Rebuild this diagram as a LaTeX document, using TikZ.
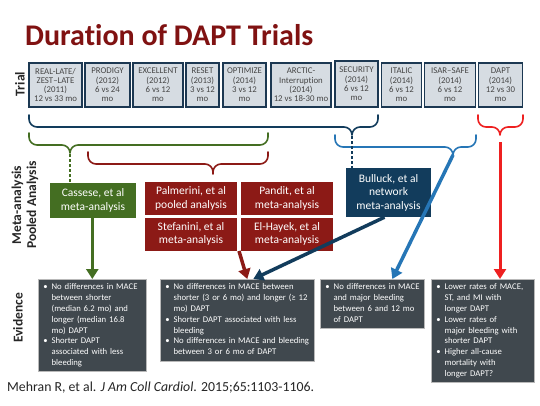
\documentclass[tikz,border=0pt]{standalone}
\usepackage{fontspec}
\setmainfont{Carlito}[Ligatures=NoCommon]
\usetikzlibrary{arrows.meta, positioning}

\definecolor{titlered}{RGB}{128,18,18}
\definecolor{trialfill}{RGB}{214,220,226}
\definecolor{trialline}{RGB}{28,56,82}
\definecolor{textgrey}{RGB}{70,70,70}
\definecolor{labelgrey}{RGB}{38,38,38}
\definecolor{navy}{RGB}{18,60,92}
\definecolor{leafgreen}{RGB}{68,110,34}
\definecolor{brick}{RGB}{140,26,22}
\definecolor{skyblue}{RGB}{38,118,182}
\definecolor{alertred}{RGB}{238,32,32}
\definecolor{slate}{RGB}{64,72,78}

\begin{document}
\begin{tikzpicture}[x=1pt, y=-1pt, >=Stealth,
    trialbox/.style={draw=trialline, line width=1.4pt, fill=trialfill, inner sep=0pt,
      minimum height=44pt, align=center, text=textgrey, font=\fontsize{8.8}{9.3}\selectfont},
    metabox/.style={inner sep=0pt, align=center, text=white, font=\fontsize{11.5}{13.5}\selectfont},
    evidbox/.style={anchor=north west, fill=slate, draw=gray!55, line width=0.6pt,
      inner xsep=5pt, inner ysep=3pt, align=left, text=white, font=\fontsize{8.7}{10.8}\selectfont},
    rowlabel/.style={rotate=90, align=center, text=labelgrey, font=\bfseries\fontsize{13.5}{15}\selectfont},
    bracepath/.style={line width=1.6pt, rounded corners=8pt, line cap=round},
    stub/.style={line width=1.6pt, dash pattern=on 3pt off 2pt},
    bigarrow/.style={line width=3.5pt, -{Triangle[width=12pt,length=10pt]}}]

  % Page
  \fill[white] (0,0) rectangle (540,405);
  \useasboundingbox (0,0) rectangle (540,405);

  % Title and row labels
  \node[anchor=base west, inner sep=0pt, text=titlered, font=\bfseries\fontsize{30}{34}\selectfont]
    (title) at (25,45) {Duration of DAPT Trials};
  \node[rowlabel] (lbltrial) at (20,84) {Trial};
  \node[rowlabel] (lblmeta) at (25,205) {Meta-analysis\\Pooled Analysis};
  \node[rowlabel] (lblevid) at (18,318) {Evidence};

  % Trials
  \node[trialbox, minimum width=53pt] (reallate) at (55.5,85) {REAL-LATE/\\ZEST–LATE\\(2011)\\12 vs 33 mo};
  \node[trialbox, minimum width=45pt] (prodigy) at (107.5,85) {PRODIGY\\(2012)\\6 vs 24\\mo};
  \node[trialbox, minimum width=50pt] (excellent) at (158,85) {EXCELLENT\\(2012)\\6 vs 12\\mo};
  \node[trialbox, minimum width=33pt] (reset) at (202.5,85) {RESET\\(2013)\\3 vs 12\\mo};
  \node[trialbox, minimum width=43pt] (optimize) at (244.5,85) {OPTIMIZE\\(2014)\\3 vs 12\\mo};
  \node[trialbox, minimum width=60pt] (arctic) at (301,85) {ARCTIC-\\Interruption\\(2014)\\12 vs 18-30 mo};
  \node[trialbox, minimum width=43pt, minimum height=46pt] (security) at (356.5,84) {SECURITY\\(2014)\\6 vs 12\\mo};
  \node[trialbox, minimum width=40pt] (italic) at (401.5,85) {ITALIC\\(2014)\\6 vs 12\\mo};
  \node[trialbox, minimum width=51pt] (isarsafe) at (450,85) {ISAR–SAFE\\(2014)\\6 vs 12\\mo};
  \node[trialbox, minimum width=44pt] (dapt) at (500.5,85) {DAPT\\(2014)\\12 vs 30\\mo};

  % Braces
  \draw[bracepath, navy] (29,115) -- (29,127) -- (352,127) -- (352,135)
    (378,115) -- (378,127) -- (352,127) -- (352,135);
  \draw[bracepath, leafgreen] (29,133) -- (29,145) -- (70,145) -- (70,153)
    (268,133) -- (268,145) -- (70,145) -- (70,153);
  \draw[bracepath, brick] (88,152) -- (88,164) -- (213,164) -- (213,174)
    (268,152) -- (268,164) -- (213,164) -- (213,174);
  \draw[bracepath, skyblue] (335,135) -- (335,147) -- (453,147) -- (453,155)
    (476,135) -- (476,147) -- (453,147) -- (453,155);
  \draw[bracepath, alertred] (478,115) -- (478,127) -- (500,127) -- (500,135)
    (523,115) -- (523,127) -- (500,127) -- (500,135);
  \coordinate (navytip) at (352,136);
  \coordinate (greentip) at (70,154);
  \coordinate (bluetip) at (453,155);
  \coordinate (redtip) at (500,142);

  % Meta-analyses
  \node[metabox, fill=leafgreen, minimum width=86pt, minimum height=35pt] (cassese) at (93,200.5)
    {Cassese, et al\\meta-analysis};
  \node[metabox, fill=brick, minimum width=92pt, minimum height=33pt] (palmerini) at (191,198.5)
    {Palmerini, et al\\pooled analysis};
  \node[metabox, fill=brick, minimum width=92pt, minimum height=33pt] (pandit) at (287,198.5)
    {Pandit, et al\\meta-analysis};
  \node[metabox, fill=brick, minimum width=92pt, minimum height=33pt] (stefanini) at (191,234)
    {Stefanini, et al\\meta-analysis};
  \node[metabox, fill=brick, minimum width=92pt, minimum height=33pt] (elhayek) at (287,234)
    {El-Hayek, et al\\meta-analysis};
  \node[metabox, fill=navy, minimum width=85pt, minimum height=49pt] (bulluck) at (388.5,192.5)
    {Bulluck, et al\\network\\meta-analysis};
  \coordinate (brickstart) at (239,251);

  % Evidence
  \node[evidbox, text width=98pt] (evid1) at (38,279) {%
    \begin{tabular}{@{}l@{\hspace{4pt}}l@{}}
      \textbullet & No differences in MACE\\
      & between shorter\\
      & (median 6.2 mo) and\\
      & longer (median 16.8\\
      & mo) DAPT\\
      \textbullet & Shorter DAPT\\
      & associated with less\\
      & bleeding
    \end{tabular}};
  \node[evidbox, text width=144pt] (evid2) at (160,279) {%
    \begin{tabular}{@{}l@{\hspace{4pt}}l@{}}
      \textbullet & No differences in MACE between\\
      & shorter (3 or 6 mo) and longer (≥ 12\\
      & mo) DAPT\\
      \textbullet & Shorter DAPT associated with less\\
      & bleeding\\
      \textbullet & No differences in MACE and bleeding\\
      & between 3 or 6 mo of DAPT
    \end{tabular}};
  \node[evidbox, text width=94pt] (evid3) at (320,279) {%
    \begin{tabular}{@{}l@{\hspace{4pt}}l@{}}
      \textbullet & No differences in MACE\\
      & and major bleeding\\
      & between 6 and 12 mo\\
      & of DAPT
    \end{tabular}};
  \node[evidbox, text width=93pt] (evid4) at (431,279) {%
    \begin{tabular}{@{}l@{\hspace{4pt}}l@{}}
      \textbullet & Lower rates of MACE,\\
      & ST, and MI with\\
      & longer DAPT\\
      \textbullet & Lower rates of\\
      & major bleeding with\\
      & shorter DAPT\\
      \textbullet & Higher all-cause\\
      & mortality with\\
      & longer DAPT?
    \end{tabular}};

  % Dashed links
  \draw[stub, leafgreen] (greentip) -- (cassese.north -| greentip);
  \draw[stub, navy] (navytip) -- (bulluck.north -| navytip);

  % Arrows
  \draw[bigarrow, leafgreen] (cassese.south -| evid1.north) -- (evid1.north);
  \draw[bigarrow, brick] (brickstart) -- ([xshift=10pt]evid2.north);
  \draw[bigarrow, navy] ([xshift=-4pt]bulluck.south) -- ([xshift=16pt]evid2.north);
  \draw[bigarrow, skyblue] (bluetip) -- ([xshift=20pt]evid3.north);
  \draw[bigarrow, alertred, line width=3pt] (redtip) -- (redtip |- evid4.north);

  % Source
  \node[anchor=base west, inner sep=0pt, text=labelgrey, font=\fontsize{13.8}{15}\selectfont]
    (source) at (7,391) {Mehran R, et al. \textit{J Am Coll Cardiol}. 2015;65:1103-1106.};
\end{tikzpicture}
\end{document}
